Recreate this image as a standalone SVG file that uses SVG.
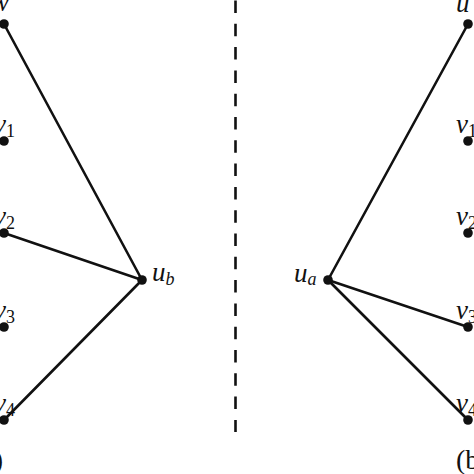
<svg xmlns="http://www.w3.org/2000/svg" width="474" height="474" viewBox="0 0 474 474">
<style>
.e{stroke:#111;stroke-width:2.6;fill:none;stroke-linecap:round}
.n{fill:#111}
.t{font-family:"Liberation Serif",serif;font-style:italic;font-size:27px;fill:#111}
.s{font-size:18px;font-style:normal}
.si{font-size:18px}
.c{font-family:"Liberation Serif",serif;font-size:28px;fill:#111}
</style>
<rect width="474" height="474" fill="#fff"/>
<line x1="235.5" y1="0" x2="235.5" y2="432" stroke="#111" stroke-width="2.6" stroke-dasharray="12.5 10.8" stroke-dashoffset="-0.5"/>
<g id="connectors">
<line class="e" x1="4" y1="24" x2="142" y2="280"/>
<line class="e" x1="4" y1="233" x2="142" y2="280"/>
<line class="e" x1="4" y1="420" x2="142" y2="280"/>
<line class="e" x1="468" y1="24" x2="328" y2="280"/>
<line class="e" x1="468" y1="327" x2="328" y2="280"/>
<line class="e" x1="468" y1="420" x2="328" y2="280"/>
</g>
<g id="w"><circle class="n" cx="4" cy="24" r="4.8"/><text class="t" x="-9" y="11">w</text></g>
<g id="v1"><circle class="n" cx="4" cy="141" r="4.8"/><text class="t" x="-6" y="133">v<tspan class="s" dy="4">1</tspan></text></g>
<g id="v2"><circle class="n" cx="4" cy="233" r="4.8"/><text class="t" x="-6" y="225">v<tspan class="s" dy="4">2</tspan></text></g>
<g id="v3"><circle class="n" cx="4" cy="327" r="4.8"/><text class="t" x="-6" y="319">v<tspan class="s" dy="4">3</tspan></text></g>
<g id="v4"><circle class="n" cx="4" cy="420" r="4.8"/><text class="t" x="-6" y="412">v<tspan class="s" dy="4">4</tspan></text></g>
<g id="ub"><circle class="n" cx="142" cy="280" r="4.8"/><text class="t" x="152" y="281">u<tspan class="si" dy="4">b</tspan></text></g>
<g id="u"><circle class="n" cx="468" cy="24" r="4.8"/><text class="t" x="456" y="12">u</text></g>
<g id="rv1"><circle class="n" cx="468" cy="141" r="4.8"/><text class="t" x="456" y="133">v<tspan class="s" dy="4">1</tspan></text></g>
<g id="rv2"><circle class="n" cx="468" cy="233" r="4.8"/><text class="t" x="456" y="225">v<tspan class="s" dy="4">2</tspan></text></g>
<g id="ua"><circle class="n" cx="328" cy="280" r="4.8"/><text class="t" x="294" y="282">u<tspan class="si" dy="3">a</tspan></text></g>
<g id="rv3"><circle class="n" cx="468" cy="327" r="4.8"/><text class="t" x="456" y="319">v<tspan class="s" dy="4">3</tspan></text></g>
<g id="rv4"><circle class="n" cx="468" cy="420" r="4.8"/><text class="t" x="456" y="412">v<tspan class="s" dy="4">4</tspan></text></g>
<text class="c" x="-28" y="469">(a)</text>
<text class="c" x="456" y="469">(b)</text>
</svg>
